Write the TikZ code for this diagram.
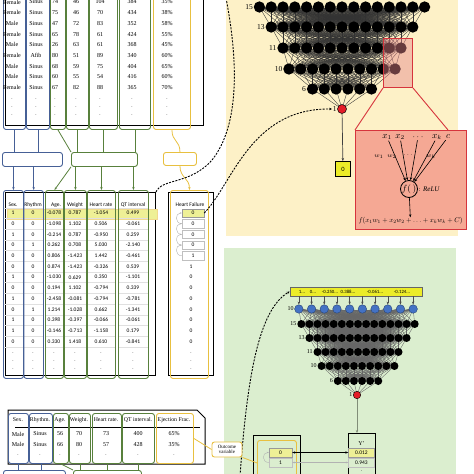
\documentclass[tikz,border=0pt]{standalone}
\usepackage{fontspec}
\setmainfont{Liberation Serif}
\newfontfamily\calibfont{Carlito}
\usetikzlibrary{arrows.meta,positioning,calc}

\definecolor{colblue}{RGB}{70,96,150}
\definecolor{colgreen}{RGB}{88,128,60}
\definecolor{colyellow}{RGB}{232,192,64}
\definecolor{hilite}{RGB}{238,240,150}
\definecolor{outyellow}{RGB}{236,236,40}
\definecolor{bgyellow}{RGB}{253,241,199}
\definecolor{bggreen}{RGB}{219,238,207}
\definecolor{zoomred}{RGB}{214,52,60}
\definecolor{pinkfill}{RGB}{245,168,148}
\definecolor{neured}{RGB}{228,28,40}
\definecolor{neublue}{RGB}{68,114,196}

% box from its top left to its bottom right corner
\newcommand{\rectnode}[6]{%
  \node[#1, anchor=north west, minimum width={((#5)-(#3))*1pt},
        minimum height={((#6)-(#4))*1pt}] (#2) at (#3,#4) {};}

\tikzset{
  txt/.style={font=\fontsize{6}{7}\selectfont, inner sep=0pt},
  sanstxt/.style={font=\calibfont\fontsize{5.5}{6}\selectfont, inner sep=0pt},
  laytxt/.style={font=\fontsize{7.5}{8}\selectfont, inner sep=0.5pt},
  colbox/.style={rounded corners=2.5pt, line width=0.9pt, inner sep=0pt},
  bluecol/.style={colbox, draw=colblue},
  greencol/.style={colbox, draw=colgreen},
  yellowcol/.style={colbox, draw=colyellow},
  linkbox/.style={colbox, fill=white},
  tframe/.style={draw=black, line width=1pt, inner sep=0pt},
  cell/.style={sanstxt, draw=black!12, line width=0.3pt, minimum height=10.7pt},
  valbox/.style={sanstxt, draw=black!25, line width=0.4pt, minimum width=22pt, minimum height=8.5pt},
  neuron/.style={circle, fill=black, inner sep=0pt, minimum size=#1},
  wire/.style={draw=black!80, line width=0.35pt},
  dotline/.style={line width=0.9pt, dash pattern=on 2pt off 1.3pt},
  arr/.style={-{Stealth[length=3pt,width=2.4pt]}},
  link/.style={line width=0.8pt}
}

\begin{document}
\begin{tikzpicture}[x=1pt,y=-1pt]
\useasboundingbox (0,0) rectangle (474,474);
\fill[bgyellow] (226,0) rectangle (458,236);
\fill[bggreen] (224,248) rectangle (456,474);

% raw data table
\rectnode{tframe}{t1frame}{5}{-5}{203}{125}
\rectnode{bluecol}{t1sex}{3}{-5}{25}{129}
\rectnode{bluecol}{t1rhy}{26}{-5}{49}{129}
\rectnode{greencol}{t1age}{50}{-5}{65}{129}
\rectnode{greencol}{t1wt}{66}{-5}{88}{129}
\rectnode{greencol}{t1hr}{89}{-5}{117}{129}
\rectnode{greencol}{t1qt}{119}{-5}{150}{129}
\rectnode{yellowcol}{t1ef}{153}{-5}{190}{129}
\foreach \va/\vb/\vc/\vd/\ve/\vf/\vg [count=\r from 0] in {Female/Sinus/74/46/104/384/35\%,
    Female/Sinus/75/46/70/434/38\%, Male/Sinus/47/72/83/352/58\%, Female/Sinus/65/78/61/424/55\%,
    Male/Sinus/26/63/61/368/45\%, Female/Afib/80/51/89/340/60\%, Male/Sinus/68/59/75/404/65\%,
    Male/Sinus/60/55/54/416/60\%, Female/Sinus/67/82/88/365/70\%}{
  \node[txt] (t1a\r) at (12,{2+10.7*\r}) {\va};
  \node[txt] (t1b\r) at (36,{2+10.7*\r}) {\vb};
  \node[txt] (t1c\r) at (55,{2+10.7*\r}) {\vc};
  \node[txt] (t1d\r) at (76,{2+10.7*\r}) {\vd};
  \node[txt] (t1e\r) at (100,{2+10.7*\r}) {\ve};
  \node[txt] (t1f\r) at (132,{2+10.7*\r}) {\vf};
  \node[txt] (t1g\r) at (167,{2+10.7*\r}) {\vg};
}
\foreach \yy [count=\k] in {99,107,115}
  \foreach \xx [count=\c] in {12,36,55,76,100,132,167}
    \node[txt] (t1dot\k-\c) at (\xx,\yy) {$\cdot$};

% grouping boxes
\rectnode{linkbox,draw=colblue}{lb1}{2}{152}{62}{166}
\rectnode{linkbox,draw=colgreen}{lg1}{71}{152}{137}{166}
\rectnode{linkbox,draw=colyellow}{ly1}{163}{152}{196}{165}
\draw[link, colblue] (t1sex.south) -- (t1sex.south |- lb1.north);
\draw[link, colblue] (t1rhy.south) -- (t1rhy.south |- lb1.north);
\draw[link, colgreen] (t1age.south) -- (lg1.north west);
\foreach \cl in {t1wt,t1hr,t1qt}
  \draw[link, colgreen] (\cl.south) -- (\cl.south |- lg1.north);
\draw[link, colyellow] (t1ef.south) .. controls +(0,12) and +(0,-12) .. (ly1.north);

% normalized table
\rectnode{tframe}{t2frame}{5}{192}{155}{375}
\rectnode{tframe}{hfframe}{168}{192}{213}{375}
\rectnode{fill=hilite, draw=colyellow!60, line width=0.4pt, inner sep=0pt}{hlrow}{7}{208.5}{157}{218.5}
\node[sanstxt] (h2a) at (13,205) {Sex.};
\node[sanstxt] (h2b) at (33,205) {Rhythm};
\node[sanstxt] (h2c) at (56,205) {Age.};
\node[sanstxt] (h2d) at (75,205) {Weight};
\node[sanstxt] (h2e) at (101,205) {Heart rate};
\node[sanstxt] (h2f) at (133,205) {QT interval};
\node[sanstxt] (h2g) at (190,205) {Heart Failure};
\foreach \va/\vb/\vc/\vd/\ve/\vf [count=\r from 0] in {1/0/-0.078/0.787/-1.054/0.499,
    0/0/-1.098/1.102/0.506/-0.061, 1/0/-0.214/0.787/-0.950/0.259, 0/1/0.262/0.708/5.030/-2.140,
    0/0/0.806/-1.423/1.442/-0.461, 0/0/0.874/-1.423/-0.326/0.539, 1/0/-1.030/0.629/0.350/-1.101,
    0/0/0.194/1.102/-0.794/0.339, 1/0/-2.458/-0.081/-0.794/-0.781, 0/1/1.214/-1.028/0.662/-1.341,
    1/0/0.398/-0.397/-0.066/-0.061, 1/0/-0.146/-0.713/-1.158/0.179, 0/0/0.330/1.418/0.610/-0.841}{
  \node[cell, minimum width=20pt] (t2a\r) at (13,{213+10.7*\r}) {\va};
  \node[cell, minimum width=20pt] (t2b\r) at (33,{213+10.7*\r}) {\vb};
  \node[cell, minimum width=18pt] (t2c\r) at (54,{213+10.7*\r}) {\vc};
  \node[cell, minimum width=22pt] (t2d\r) at (75,{213+10.7*\r}) {\vd};
  \node[cell, minimum width=28pt] (t2e\r) at (101,{213+10.7*\r}) {\ve};
  \node[cell, minimum width=30pt] (t2f\r) at (133,{213+10.7*\r}) {\vf};
}
\node[valbox, fill=hilite, draw=black!40] (hf0) at (193,213) {0};
\foreach \v [count=\r from 1] in {0,0,0,1,1,0,0,0,0,0,0,0}{
  \ifnum\r<5
    \node[valbox] (hf\r) at (193,{213+10.7*\r}) {\v};
  \else
    \node[sanstxt] (hf\r) at (191,{213+10.7*\r}) {\v};
  \fi
}
\foreach \r [evaluate=\r as \p using int(\r-1)] in {1,...,4}
  \draw[black!30, line width=0.4pt, -{Stealth[length=2pt]}] (hf\r.west) .. controls +(-7,0) and +(-7,0) .. (hf\p.west);
\foreach \yy [count=\k] in {353,361,369}
  \foreach \xx [count=\c] in {13,33,54,75,101,133,191}
    \node[txt] (t2dot\k-\c) at (\xx,\yy) {$\cdot$};
\rectnode{bluecol}{t2sex}{3}{190}{23}{378}
\rectnode{bluecol}{t2rhy}{23.5}{190}{43}{378}
\rectnode{greencol}{t2age}{45}{190}{63}{378}
\rectnode{greencol}{t2wt}{64}{190}{86}{378}
\rectnode{greencol}{t2hr}{87}{190}{115}{378}
\rectnode{greencol}{t2qt}{118}{190}{148}{378}
\rectnode{yellowcol}{t2hf}{170}{190}{208}{378}
\draw[link, colblue, arr] (t2sex.north |- lb1.south) -- (t2sex.north);
\draw[link, colblue, arr] (t2rhy.north |- lb1.south) -- (t2rhy.north);
\draw[link, colgreen, arr] (lg1.south west) -- (t2age.north);
\foreach \cl in {t2wt,t2hr,t2qt}
  \draw[link, colgreen, arr] (\cl.north |- lg1.south) -- (\cl.north);
\draw[link, colyellow, arr] (ly1.south) .. controls +(0,12) and +(0,-12) .. (t2hf.north);

% trained network: positions, wires, then neurons
\foreach \l/\n/\yy in {1/15/7,2/13/27,3/11/48,4/10/69,5/6/89}{
  \foreach \i in {1,...,\n}{
    \coordinate (pu\l-\i) at ({342+(\i-(\n+1)/2)*11.8},\yy);
  }
}
\coordinate (puout) at (342,109);
\foreach \l/\n/\m/\nl in {1/15/13/2,2/13/11/3,3/11/10/4,4/10/6/5}{
  \foreach \i in {1,...,\n}{
    \foreach \j in {1,...,\m}{
      \path[wire] (pu\l-\i) -- (pu\nl-\j);
    }
  }
}
\foreach \j in {1,...,6}{\path[wire] (pu5-\j) -- (puout);}
\foreach \l/\n in {1/15,2/13,3/11,4/10,5/6}
  \foreach \i in {1,...,\n}
    \node[neuron=11.3pt] (u\l-\i) at (pu\l-\i) {};
\node[circle, fill=neured, draw=black, line width=0.5pt, inner sep=0pt, minimum size=9pt] (uout) at (puout) {};
\foreach \l/\n in {1/15,2/13,3/11,4/10,5/6}
  \node[laytxt, left=0pt of u\l-1] (ul\l) {\n};
\node[laytxt, left=0pt of uout] (ulout) {1};
\node[draw=black, line width=0.9pt, fill=outyellow, sanstxt, font=\calibfont\fontsize{6.5}{7}\selectfont,
      minimum width=15pt, minimum height=15pt] (out0) at (343,169) {0};
\draw[arr, black!75, line width=0.7pt] (uout) -- (out0);

% single neuron
\rectnode{draw=zoomred, line width=1pt, fill=zoomred!60, fill opacity=0.45, inner sep=0pt}{zoombox}{383}{38}{412}{87}
\rectnode{draw=zoomred, line width=1pt, fill=pinkfill, inner sep=0pt}{nbox}{355}{130}{466}{229}
\coordinate (nboxr) at (448,130);
\draw[zoomred, line width=0.9pt] (zoombox.south west) -- (nbox.north west);
\draw[zoomred, line width=0.9pt] (zoombox.south east) -- (nboxr);
\node[font=\fontsize{9}{10}\selectfont, inner sep=1pt] (xa) at (387,137) {$x_1$};
\node[font=\fontsize{9}{10}\selectfont, inner sep=1pt] (xb) at (400,137) {$x_2$};
\node[font=\fontsize{9}{10}\selectfont, inner sep=1pt] (xdots) at (418,137) {$\cdots$};
\node[font=\fontsize{9}{10}\selectfont, inner sep=1pt] (xk) at (437,137) {$x_k$};
\node[font=\fontsize{9}{10}\selectfont, inner sep=1pt] (xc) at (448,137) {$c$};
\node[circle, draw, line width=0.8pt, inner sep=0pt, minimum size=17pt,
      font=\fontsize{9}{10}\selectfont] (fnode) at (409,189) {$f(\,)$};
\node[right=0.5pt of fnode, font=\fontsize{7}{8}\selectfont, inner sep=0pt] (relu) {$:\mathit{ReLU}$};
\foreach \s in {xa,xb,xdots,xk,xc}
  \draw[arr, line width=0.6pt] (\s) -- (fnode);
\node[font=\fontsize{6}{7}\selectfont, inner sep=0pt] (wa) at (379,157) {$w_1$};
\node[font=\fontsize{6}{7}\selectfont, inner sep=0pt] (wb) at (392,157) {$w_2$};
\node[font=\fontsize{6}{7}\selectfont, inner sep=0pt] (wdots) at (408,155) {$\cdots$};
\node[font=\fontsize{6}{7}\selectfont, inner sep=0pt] (wk) at (431,157) {$w_k$};
\node[inner sep=0pt] (fout) at (410.5,221) {\resizebox{104pt}{!}{$f(x_1w_1+x_2w_2+\dots+x_kw_k+C)$}};
\draw[arr, line width=0.6pt] (fnode) -- (fout);

% dashed links
\coordinate (dtop) at (226,-2);
\draw[dotline] (dtop) .. controls (238,60) and (240,125) .. (212,160) .. controls (190,185) and (162,178) .. (t2frame.north east);
\draw[dotline, arr] (hf0.east) .. controls (232,185) and (250,108) .. (ulout.west);

% prediction network
\node[draw=black!60, line width=0.5pt, fill=outyellow, inner sep=0pt, minimum width=132pt, minimum height=9pt] (inbar) at (356,291.5) {};
\foreach \t/\xx [count=\k] in {1{.}{.}{.}/302, 0{.}{.}{.}/313, -0.250{.}{.}{.}/330, 0.388{.}{.}{.}/348, -0.061{.}{.}{.}/375, -0.124{.}{.}{.}/402}
  \node[sanstxt, font=\calibfont\fontsize{4.8}{5}\selectfont] (bt\k) at (\xx,291.5) {\t};
\foreach \i in {1,...,10}{
  \coordinate (pb-\i) at ({356+(\i-5.5)*12.7},309);
}
\foreach \l/\n/\yy in {1/15/324,2/13/338,3/11/352,4/10/366,5/6/381}{
  \foreach \i in {1,...,\n}{
    \coordinate (pg\l-\i) at ({358+(\i-(\n+1)/2)*8.1},\yy);
  }
}
\coordinate (pgout) at (357,395);
\foreach \i in {1,...,10}{
  \foreach \j in {1,...,15}{
    \path[wire, draw=black!60] (pb-\i) -- (pg1-\j);
  }
}
\foreach \l/\n/\m/\nl in {1/15/13/2,2/13/11/3,3/11/10/4,4/10/6/5}{
  \foreach \i in {1,...,\n}{
    \foreach \j in {1,...,\m}{
      \path[wire, draw=black!60] (pg\l-\i) -- (pg\nl-\j);
    }
  }
}
\foreach \j in {1,...,6}{\path[wire, draw=black!60] (pg5-\j) -- (pgout);}
\foreach \i in {1,...,10}
  \node[circle, fill=neublue, draw=neublue!60!black, line width=0.4pt, inner sep=0pt, minimum size=8.5pt] (gb-\i) at (pb-\i) {};
\foreach \i in {1,...,10}
  \draw[arr, black!70, line width=0.5pt] (gb-\i |- inbar.south) -- (gb-\i);
\foreach \l/\n in {1/15,2/13,3/11,4/10,5/6}
  \foreach \i in {1,...,\n}
    \node[neuron=8pt] (g\l-\i) at (pg\l-\i) {};
\node[circle, fill=neured, draw=black, line width=0.4pt, inner sep=0pt, minimum size=7.5pt] (gout) at (pgout) {};
\node[laytxt, font=\fontsize{6}{7}\selectfont, left=0pt of gb-1] (glb) {10};
\foreach \l/\n in {1/15,2/13,3/11,4/10,5/6}
  \node[laytxt, font=\fontsize{6}{7}\selectfont, left=0pt of g\l-1] (gl\l) {\n};
\node[laytxt, font=\fontsize{6}{7}\selectfont, left=0pt of gout] (glout) {1};
\coordinate (dbot) at (240,476);
\draw[dotline, arr] (dbot) .. controls (247,380) and (258,310) .. (inbar.west);

% predicted and real outcome
\rectnode{tframe}{ypframe}{348}{433}{375}{485}
\draw[arr, colgreen!50!black!60, line width=0.7pt] (gout) -- (gout |- ypframe.north);
\node[txt] (yplab) at (361.5,443) {Y'};
\node[valbox, minimum width=26pt, fill=hilite, draw=black!40] (yp0) at (361.5,452.5) {0.012};
\node[valbox, minimum width=26pt] (yp1) at (361.5,462.5) {0.943};
\node[txt] (ypdot) at (361.5,471) {$\cdot$};
\rectnode{tframe}{rlframe}{253}{435}{300}{485}
\rectnode{yellowcol}{rlcol}{257}{440}{296}{485}
\node[valbox, minimum width=23pt, fill=hilite, draw=black!40] (rl0) at (280.5,452.5) {0};
\node[valbox, minimum width=23pt] (rl1) at (280.5,462.5) {1};
\draw[black!30, line width=0.4pt, -{Stealth[length=2pt]}] (rl1.west) .. controls +(-7,0) and +(-7,0) .. (rl0.west);
\draw[line width=0.6pt, {Stealth[length=3pt]}-{Stealth[length=3pt]}] (rl0.east) -- (yp0.west);
\draw[black!30, line width=0.5pt, {Stealth[length=2.5pt]}-{Stealth[length=2.5pt]}] (rl1.east) -- (yp1.west);

% new patient table
\draw[line width=1pt] (8,464) -- (8,410) -- (197,410) -- (205,418) -- (205,464) -- cycle;
\coordinate (b3hl) at (15,427);
\coordinate (b3hr) at (200,427);
\draw[line width=0.6pt] (b3hl) -- (b3hr);
\foreach \t/\xx [count=\k] in {Sex./18, Rhythm./40, Age./60, Weight./79, Heart rate./106, QT interval./138, Ejection\ Frac./174}
  \node[txt, font=\fontsize{5.8}{6}\selectfont] (h3\k) at (\xx,420) {\t};
\foreach \va/\vb/\vc/\vd/\ve/\vf/\vg [count=\r from 0] in {Male/Sinus/56/70/73/400/65\%, Male/Sinus/66/80/57/428/35\%}{
  \node[txt] (b3a\r) at (18,{434+10.5*\r}) {\va};
  \node[txt] (b3b\r) at (40,{434+10.5*\r}) {\vb};
  \node[txt] (b3c\r) at (60,{434+10.5*\r}) {\vc};
  \node[txt] (b3d\r) at (79,{434+10.5*\r}) {\vd};
  \node[txt] (b3e\r) at (106,{434+10.5*\r}) {\ve};
  \node[txt] (b3f\r) at (138,{434+10.5*\r}) {\vf};
  \node[txt] (b3g\r) at (174,{434+10.5*\r}) {\vg};
}
\foreach \xx [count=\c] in {18,40,60,79,106,138,174}
  \node[txt] (b3dot\c) at (\xx,455) {$\cdot$};
\rectnode{bluecol}{b3sex}{8}{413}{28}{463}
\rectnode{bluecol}{b3rhy}{29}{413}{52}{463}
\rectnode{greencol}{b3age}{53}{413}{68}{463}
\rectnode{greencol}{b3wt}{69}{413}{90}{463}
\rectnode{greencol}{b3hr}{92}{413}{121}{463}
\rectnode{greencol}{b3qt}{122}{413}{154}{463}
\rectnode{yellowcol}{b3ef}{156}{413}{193}{463}
\rectnode{linkbox,draw=colblue}{lb3}{3}{470}{65}{484}
\rectnode{linkbox,draw=colgreen}{lg3}{73}{470}{141}{484}
\draw[link, colblue] (b3sex.south) -- (b3sex.south |- lb3.north);
\draw[link, colblue] (b3rhy.south) -- (b3rhy.south |- lb3.north);
\draw[link, colgreen] (b3age.south) -- (lg3.north west);
\foreach \cl in {b3wt,b3hr,b3qt}
  \draw[link, colgreen] (\cl.south) -- (\cl.south |- lg3.north);
\node[linkbox, draw=colyellow, font=\fontsize{5}{5.5}\selectfont, align=center,
      minimum width=30pt, minimum height=15pt] (outcome) at (227,449.5) {Outcome\\variable};
\draw[link, colyellow] (b3ef.east) -- (outcome.west);
\draw[link, colyellow] (outcome.south east) -- (rlcol.west);
\end{tikzpicture}
\end{document}
